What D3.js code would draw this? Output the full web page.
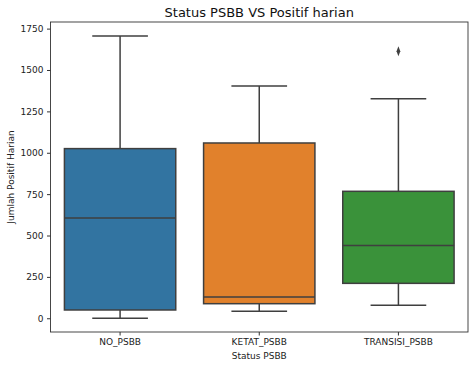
<!DOCTYPE html>
<html><head><meta charset="utf-8">
<script src="https://cdn.jsdelivr.net/npm/d3@7"></script>
<style>body{margin:0;background:#fff}svg{display:block}text{font-family:"DejaVu Sans",sans-serif}</style>
</head><body>
<svg id="c" width="474" height="368"></svg>
<script>
const categories = ["NO_PSBB", "KETAT_PSBB", "TRANSISI_PSBB"];
const whiskerLow = [0, 42, 78];
const q1 = [50, 88, 211];
const median = [606, 129, 439];
const q3 = [1025, 1059, 767];
const whiskerHigh = [1705, 1404, 1327];
const outliers = [[], [], [1613]];
const colors = ["#3274a1", "#e1812c", "#3a923a"];
const yTicks = [0, 250, 500, 750, 1000, 1250, 1500, 1750];

const svg = d3.select("#c");
const m = {l: 50.5, r: 468, t: 22, b: 332};
const x = d3.scaleBand().domain(categories).range([m.l, m.r]).paddingInner(0).paddingOuter(0);
const y = d3.scaleLinear().domain([-83, 1790]).range([m.b, m.t]);
const line = "#3f3f3f";

const bw = x.bandwidth() * 0.8;
categories.forEach((c, i) => {
  const cx = x(c) + x.bandwidth() / 2;
  const g = svg.append("g");
  g.append("line").attr("x1", cx).attr("x2", cx).attr("y1", y(whiskerLow[i])).attr("y2", y(q1[i])).attr("stroke", line).attr("stroke-width", 1.5);
  g.append("line").attr("x1", cx).attr("x2", cx).attr("y1", y(q3[i])).attr("y2", y(whiskerHigh[i])).attr("stroke", line).attr("stroke-width", 1.5);
  [whiskerLow[i], whiskerHigh[i]].forEach(v => {
    g.append("line").attr("x1", cx - bw / 4).attr("x2", cx + bw / 4).attr("y1", y(v)).attr("y2", y(v)).attr("stroke", line).attr("stroke-width", 1.5);
  });
  g.append("rect").attr("x", cx - bw / 2).attr("width", bw).attr("y", y(q3[i])).attr("height", y(q1[i]) - y(q3[i]))
    .attr("fill", colors[i]).attr("stroke", line).attr("stroke-width", 1.5);
  g.append("line").attr("x1", cx - bw / 2).attr("x2", cx + bw / 2).attr("y1", y(median[i])).attr("y2", y(median[i])).attr("stroke", line).attr("stroke-width", 1.5);
  outliers[i].forEach(v => {
    g.append("path").attr("d", d3.symbol(d3.symbolDiamond, 22)()).attr("transform", `translate(${cx},${y(v)}) scale(0.75,1.15)`).attr("fill", line);
  });
});

// frame
svg.append("rect").attr("x", m.l).attr("y", m.t).attr("width", m.r - m.l).attr("height", m.b - m.t)
  .attr("fill", "none").attr("stroke", "#333").attr("stroke-width", 0.9);

const ya = svg.append("g").attr("transform", `translate(${m.l},0)`)
  .call(d3.axisLeft(y).tickValues(yTicks).tickSize(3.5).tickPadding(3.5).tickFormat(d3.format("d")));
ya.select(".domain").remove();
ya.selectAll("text").attr("font-size", 9).attr("fill", "#222").attr("font-family", "DejaVu Sans");
ya.selectAll("line").attr("stroke", "#333");

const xa = svg.append("g").attr("transform", `translate(0,${m.b})`)
  .call(d3.axisBottom(x).tickSize(3.5).tickPadding(3.5));
xa.select(".domain").remove();
xa.selectAll("text").attr("font-size", 9).attr("fill", "#222").attr("font-family", "DejaVu Sans");
xa.selectAll("line").attr("stroke", "#333");

svg.append("text").attr("x", (m.l + m.r) / 2).attr("y", 16.5).attr("text-anchor", "middle")
  .attr("font-size", 13).attr("fill", "#111").text("Status PSBB VS Positif harian");
svg.append("text").attr("x", (m.l + m.r) / 2).attr("y", 359).attr("text-anchor", "middle")
  .attr("font-size", 9).attr("fill", "#222").text("Status PSBB");
svg.append("text").attr("transform", `translate(14,${(m.t + m.b) / 2}) rotate(-90)`).attr("text-anchor", "middle")
  .attr("font-size", 9).attr("fill", "#222").text("Jumlah Positif Harian");
</script>
</body></html>
